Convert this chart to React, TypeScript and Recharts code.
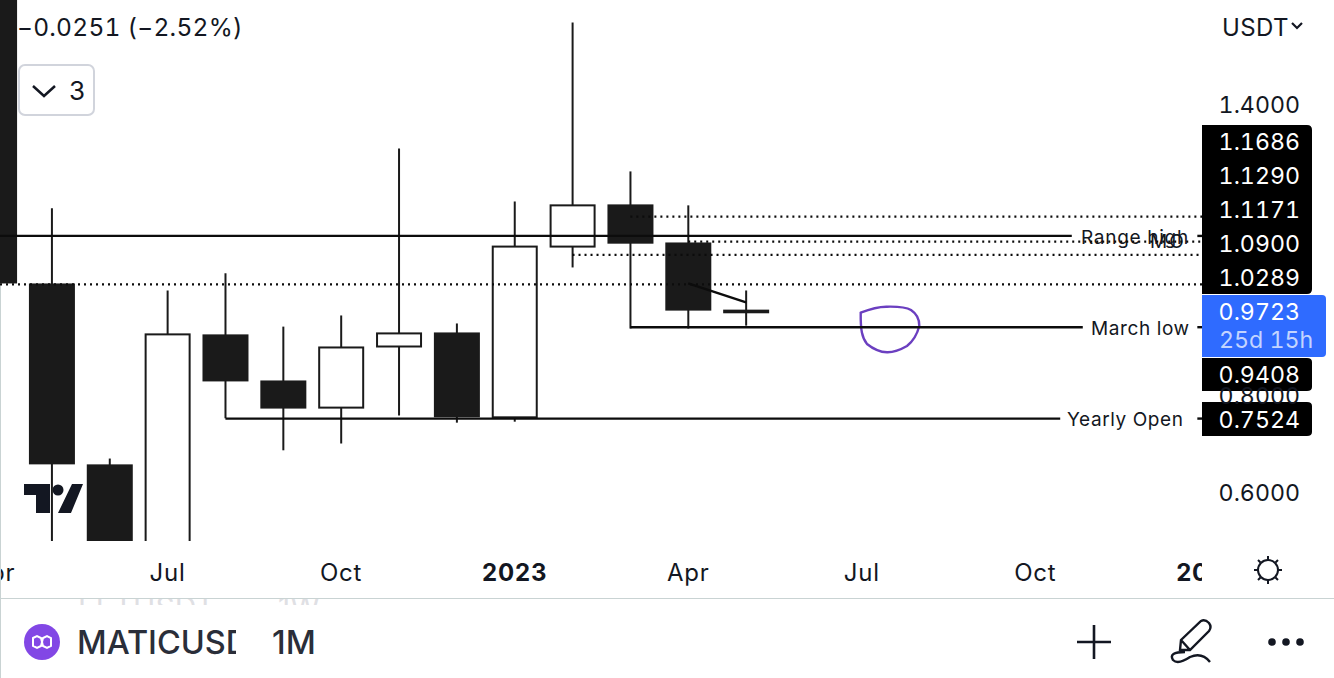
import React from "react";
import { ComposedChart, Bar, XAxis, YAxis, ReferenceLine, Customized } from "recharts";

// ---- data ----
const months = [0, 1, 2, 3, 4, 5, 6, 7, 8, 9, 10, 11, 12, 13];
const opens = [1.75, 1.031, 0.658, 0.46, 0.926, 0.831, 0.775, 0.901, 0.93, 0.755, 1.107, 1.194, 1.1155, 0.977];
const closes = [1.031, 0.658, 0.46, 0.926, 0.829, 0.773, 0.899, 0.928, 0.755, 1.107, 1.192, 1.113, 0.975, 0.9695];
const highs = [1.8, 1.186, 0.67, 1.0165, 1.052, 0.942, 0.965, 1.309, 0.9485, 1.2, 1.569, 1.262, 1.192, 1.0165];
const lows = [0.98, 0.46, 0.45, 0.45, 0.753, 0.687, 0.701, 0.759, 0.744, 0.746, 1.064, 0.938, 0.938, 0.944];
const downFlags = [true, true, true, false, true, true, false, false, true, false, false, true, true, true];

const tickMonths = [0, 3, 6, 9, 12, 15, 18, 21];
const tickNames = ["Apr", "Jul", "Oct", "2023", "Apr", "Jul", "Oct", "2024"];
const boldTicks = ["2023", "2024"];
const priceTicks = [0.6, 0.8, 1.4];

const X_MIN = 0.1037;
const X_MAX = 20.8807;
const Y_MIN = 0.5;
const Y_MAX = 1.6154;

const solidSegments = [
  { y: 1.129, from: X_MIN, to: 18.63 },
  { y: 1.129, from: 20.8, to: X_MAX },
  { y: 0.9408, from: 11, to: 18.82 },
  { y: 0.9408, from: 20.8, to: X_MAX },
  { y: 0.7524, from: 4, to: 18.43 },
  { y: 0.7524, from: 20.8, to: X_MAX },
];
const dottedSegments = [
  { y: 1.1686, from: 11, to: X_MAX },
  { y: 1.1171, from: 12, to: X_MAX },
  { y: 1.09, from: 10, to: X_MAX },
  { y: 1.0289, from: X_MIN, to: X_MAX },
];
const trendFrom = { x: 12, y: 1.031 };
const trendTo = { x: 13, y: 0.992 };

const priceTags = ["1.1686", "1.1290", "1.1171", "1.0900", "1.0289"];
const lowerTags = ["0.9408", "0.7524"];

const rows = months.map((m, i) => ({
  m,
  range: [lows[i], highs[i]],
  open: opens[i],
  close: closes[i],
  high: highs[i],
  low: lows[i],
  down: downFlags[i],
}));

const INK = "#1a1a1a";
const LINE = "#0c0c0c";
const FONT = "Inter, 'Noto Sans', sans-serif";
const NUM: React.CSSProperties = { fontVariantNumeric: "tabular-nums", fontFeatureSettings: "'tnum' 1" };

const Candle = (props: any) => {
  const { x, y, width, height, payload } = props;
  const perUnit = height / (payload.high - payload.low);
  const cx = x + width / 2;
  const top = Math.max(payload.open, payload.close);
  const bottom = Math.min(payload.open, payload.close);
  const bodyTop = y + (payload.high - top) * perUnit;
  const bodyH = (top - bottom) * perUnit;
  return (
    <g>
      <line x1={cx} x2={cx} y1={y} y2={y + height} stroke={INK} strokeWidth={2} />
      {payload.down ? (
        <rect x={x} y={bodyTop} width={width} height={bodyH} fill={INK} />
      ) : (
        <rect x={x + 1} y={bodyTop} width={width - 2} height={bodyH} fill="#fff" stroke={INK} strokeWidth={2} />
      )}
    </g>
  );
};

const TimeTick = (props: any) => {
  const { x, payload, index } = props;
  const name = tickNames[tickMonths.indexOf(payload.value)];
  const id = `tick-clip-${index}`;
  return (
    <g>
      <defs>
        <clipPath id={id}>
          <rect x={1} y={550} width={1201} height={45} />
        </clipPath>
      </defs>
      <text
        clipPath={`url(#${id})`}
        x={x}
        y={580.5}
        textAnchor="middle"
        fontFamily={FONT}
        fontSize={24}
        letterSpacing={0.8}
        fontWeight={boldTicks.includes(name) ? 700 : 400}
        fill="#131722"
      >
        {name}
      </text>
    </g>
  );
};

const PriceTick = (props: any) => {
  const { y, payload } = props;
  return (
    <text x={1300} y={y + 9} textAnchor="end" fontFamily={FONT} fontSize={23.2} fill="#131722" style={NUM}>
      {payload.value.toFixed(4)}
    </text>
  );
};

const tagText = (label: string, cy: number) => (
  <text key={label} x={1300} y={cy + 9} textAnchor="end" fontFamily={FONT} fontSize={23.2} fill="#fff" style={NUM}>
    {label}
  </text>
);

const labelText = (label: string, x: number, y: number, spacing: number) => (
  <text x={x} y={y} fontFamily={FONT} fontSize={19} letterSpacing={spacing} fill="#131722">
    {label}
  </text>
);

const Overlay = () => (
  <g>
    {/* drawing labels */}
    {labelText("Range high", 1081, 244, 0.7)}
    {labelText("MO", 1150, 248, 2)}
    {labelText("March low", 1091, 335, 0.6)}
    {labelText("Yearly Open", 1067, 426, 0.6)}
    <path
      d="M860.7 312.7 C870 309 878 306.5 887 306.7 C897 306.5 906 307 911 310 C917 314 919.5 320 919.3 326 C917 335 912 342 907 346 C900 350 893 352.5 887 352.3 C879 352 872 348 867 344 C862 338 860.5 330 860.7 312.7 Z"
      fill="none"
      stroke="#6b3fc0"
      strokeWidth={2.4}
    />
    {/* price tags */}
    <path d="M1202 125 H1307 Q1312 125 1312 130 V289 Q1312 294 1307 294 H1202 Z" fill="#000" />
    {priceTags.map((t, i) => tagText(t, 141 + i * 34))}
    <path d="M1202 358 H1307 Q1312 358 1312 362 V387 Q1312 391 1307 391 H1202 Z" fill="#000" />
    {tagText(lowerTags[0], 374)}
    <path d="M1202 402 H1307 Q1312 402 1312 406 V432 Q1312 436 1307 436 H1202 Z" fill="#000" />
    {tagText(lowerTags[1], 419)}
    <path d="M1202 295 H1322 Q1326 295 1326 299 V353 Q1326 357 1322 357 H1202 Z" fill="#2f6bff" />
    {tagText("0.9723", 311)}
    <text x={1219} y={348} fontFamily={FONT} fontSize={23.2} fill="#c3d4ff" style={NUM}>
      25d 15h
    </text>
    {/* top left legend */}
    <text x={17} y={36} fontFamily={FONT} fontSize={24.5} letterSpacing={0.25} fill="#131722" style={NUM}>
      −0.0251 (−2.52%)
    </text>
    <rect x={19} y={65} width={75} height={50} rx={6} fill="#fff" stroke="#d1d4dc" strokeWidth={2} />
    <path d="M33 86 L44 96 L55 86" fill="none" stroke="#131722" strokeWidth={2.5} />
    <text x={69} y={100} fontFamily={FONT} fontSize={26} fill="#131722">
      3
    </text>
    {/* currency */}
    <text x={1222} y={36} fontFamily={FONT} fontSize={24} letterSpacing={0.4} fill="#131722">
      USDT
    </text>
    <path d="M1292 23 L1297 28 L1302 23" fill="none" stroke="#131722" strokeWidth={2.2} />
    {/* logo */}
    <path d="M24 484 H50 V513 H36 V495 H24 Z M58 513 L72 484 H83 L71 513 Z" fill="#131722" />
    <circle cx={58} cy={490} r={5.5} fill="#131722" />
    {/* sun */}
    <circle cx={1268} cy={570} r={10} fill="none" stroke="#131722" strokeWidth={2} />
    <path
      d="M1268 556 V560 M1268 580 V584 M1254 570 H1258 M1278 570 H1282 M1258 560 L1260.5 562.5 M1275.5 577.5 L1278 580 M1258 580 L1260.5 577.5 M1275.5 562.5 L1278 560"
      stroke="#131722"
      strokeWidth={2}
    />
    {/* bottom bar */}
    <line x1={0.5} x2={0.5} y1={284} y2={678} stroke="#c9d3d3" strokeWidth={1} />
    <defs>
      <clipPath id="fade-clip">
        <rect x={0} y={599} width={1334} height={6} />
      </clipPath>
      <clipPath id="symbol-clip">
        <rect x={0} y={610} width={236} height={60} />
      </clipPath>
    </defs>
    <g clipPath="url(#fade-clip)" fill="#dfe0e4" fontFamily={FONT} fontSize={30}>
      <text x={78} y={618}>FETUSDT..</text>
      <text x={278} y={618}>1W</text>
    </g>
    <line x1={0} x2={1334} y1={598.5} y2={598.5} stroke="#c9d3d3" strokeWidth={1.2} />
    <circle cx={42} cy={642} r={18} fill="#8247e5" />
    <path
      d="M33 638 L37 636 L41 638 L43 646 L47 648 L51 646 V638 L47 636 L43 638 L41 646 L37 648 L33 646 Z"
      fill="none"
      stroke="#fff"
      strokeWidth={2}
    />
    <text clipPath="url(#symbol-clip)" x={77} y={654} fontFamily={FONT} fontSize={32.5} fontWeight={500} fill="#2a2e39">
      MATICUSDT
    </text>
    <text x={272} y={654} fontFamily={FONT} fontSize={33} fontWeight={500} fill="#2a2e39">
      1M
    </text>
    <path d="M1094 625 V659 M1077 642 H1111" stroke="#131722" strokeWidth={2.6} />
    <path
      d="M1180 650 L1181 640 L1201 621 Q1205 619 1209 623 Q1212 627 1209 631 L1190 650 Z M1181 640 L1190 650"
      fill="none"
      stroke="#131722"
      strokeWidth={2.4}
    />
    <path d="M1185 652 Q1168 652 1173 660 Q1178 665 1190 657 Q1202 652 1210 662" fill="none" stroke="#131722" strokeWidth={2.4} />
    <circle cx={1272} cy={642} r={3.8} fill="#131722" />
    <circle cx={1286} cy={642} r={3.8} fill="#131722" />
    <circle cx={1300} cy={642} r={3.8} fill="#131722" />
  </g>
);

export default function App() {
  return (
    <div style={{ position: "fixed", left: 0, top: 0, width: 1334, height: 678, background: "#fff", overflow: "hidden" }}>
      <ComposedChart width={1334} height={678} data={rows} margin={{ top: 0, right: 0, bottom: 0, left: 0 }}>
        <XAxis
          dataKey="m"
          type="number"
          scale="linear"
          domain={[X_MIN, X_MAX]}
          allowDataOverflow
          ticks={tickMonths}
          interval={0}
          height={137}
          axisLine={false}
          tickLine={false}
          tick={<TimeTick />}
        />
        <YAxis
          orientation="right"
          type="number"
          domain={[Y_MIN, Y_MAX]}
          allowDataOverflow
          ticks={priceTicks}
          interval={0}
          width={132}
          axisLine={false}
          tickLine={false}
          tick={<PriceTick />}
        />
        <Bar dataKey="range" barSize={46} isAnimationActive={false} shape={<Candle />} />
        {dottedSegments.map((s, i) => (
          <ReferenceLine
            key={`d${i}`}
            segment={[{ x: s.from, y: s.y }, { x: s.to, y: s.y }]}
            stroke={LINE}
            strokeWidth={2.2}
            strokeDasharray="2 4"
          />
        ))}
        {solidSegments.map((s, i) => (
          <ReferenceLine
            key={`s${i}`}
            segment={[{ x: s.from, y: s.y }, { x: s.to, y: s.y }]}
            stroke={LINE}
            strokeWidth={2.4}
          />
        ))}
        <ReferenceLine segment={[trendFrom, trendTo]} stroke={LINE} strokeWidth={2.4} />
        <Customized component={Overlay} />
      </ComposedChart>
    </div>
  );
}
